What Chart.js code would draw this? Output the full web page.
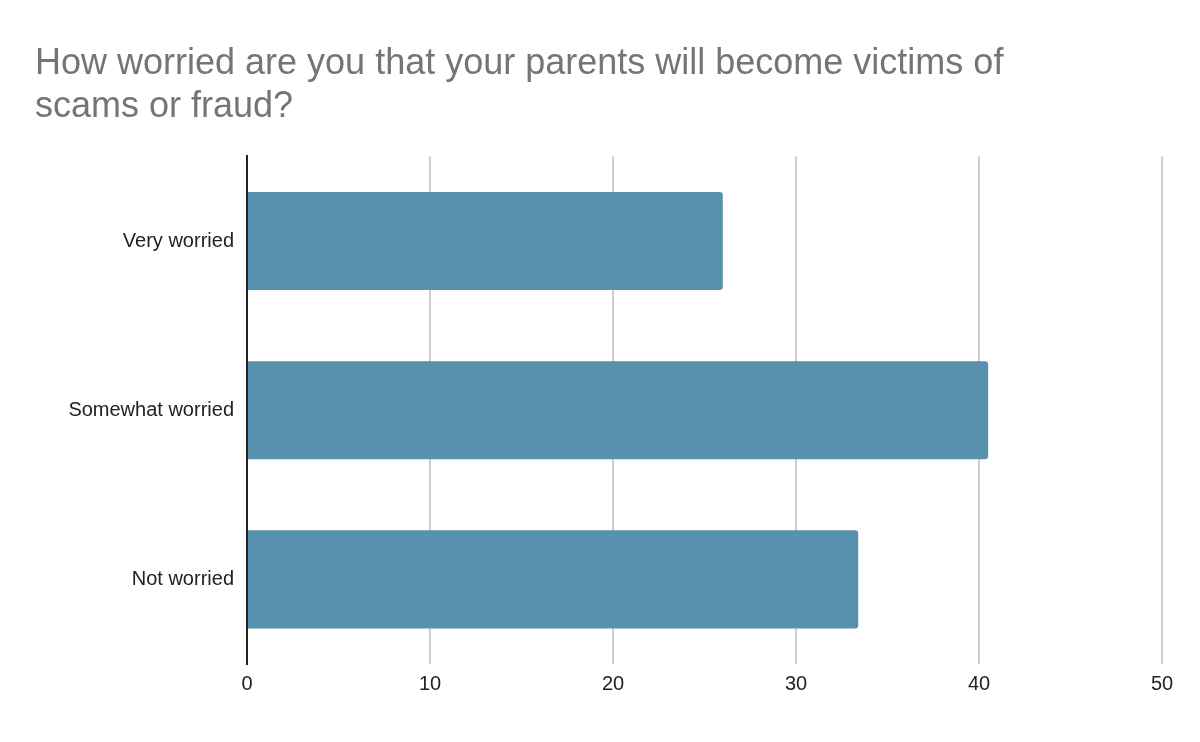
<!DOCTYPE html>
<html><head><meta charset="utf-8">
<script src="https://cdn.jsdelivr.net/npm/chart.js@4"></script>
<style>html,body{margin:0;padding:0;background:#fff}#w{width:1200px;height:742px}</style>
</head><body><div id="w"><canvas id="c"></canvas></div>
<script>
const categories = ["Very worried", "Somewhat worried", "Not worried"];
const values = [26.0, 40.5, 33.4];
const xTicks = [0, 10, 20, 30, 40, 50];
const titleLines = ["How worried are you that your parents will become victims of", "scams or fraud?"];
const FF = "'Liberation Sans', Arial, sans-serif";

new Chart(document.getElementById('c'), {
  type: 'bar',
  data: { labels: categories, datasets: [{ data: values, backgroundColor: '#5891ae', borderRadius: {topRight:3,bottomRight:3}, borderSkipped: false, barPercentage: 0.58, categoryPercentage: 1 }] },
  options: {
    indexAxis: 'y', responsive: true, maintainAspectRatio: false, animation: false,
    layout: { padding: { left: 35, right: 38, top: 42, bottom: 38 } },
    plugins: {
      legend: { display: false }, tooltip: { enabled: false },
      title: { display: true, text: titleLines, align: 'start', color: '#757575',
        font: { family: FF, size: 36, weight: 'normal' }, lineHeight: 1.2, padding: { top: 0, bottom: 28 } }
    },
    scales: {
      x: { min: 0, max: 50, afterBuildTicks: a => { a.ticks = xTicks.map(v => ({ value: v })); },
        grid: { color: '#cccccc', lineWidth: 2, drawTicks: false }, border: { display: false },
        ticks: { color: '#222', font: { family: FF, size: 20 }, padding: 8 } },
      y: { afterFit: s => { s.width = 212; }, grid: { display: false, drawTicks: false }, border: { color: '#222', width: 2 },
        ticks: { color: '#222', font: { family: FF, size: 20 }, padding: 13 } }
    }
  }
});
</script></body></html>
